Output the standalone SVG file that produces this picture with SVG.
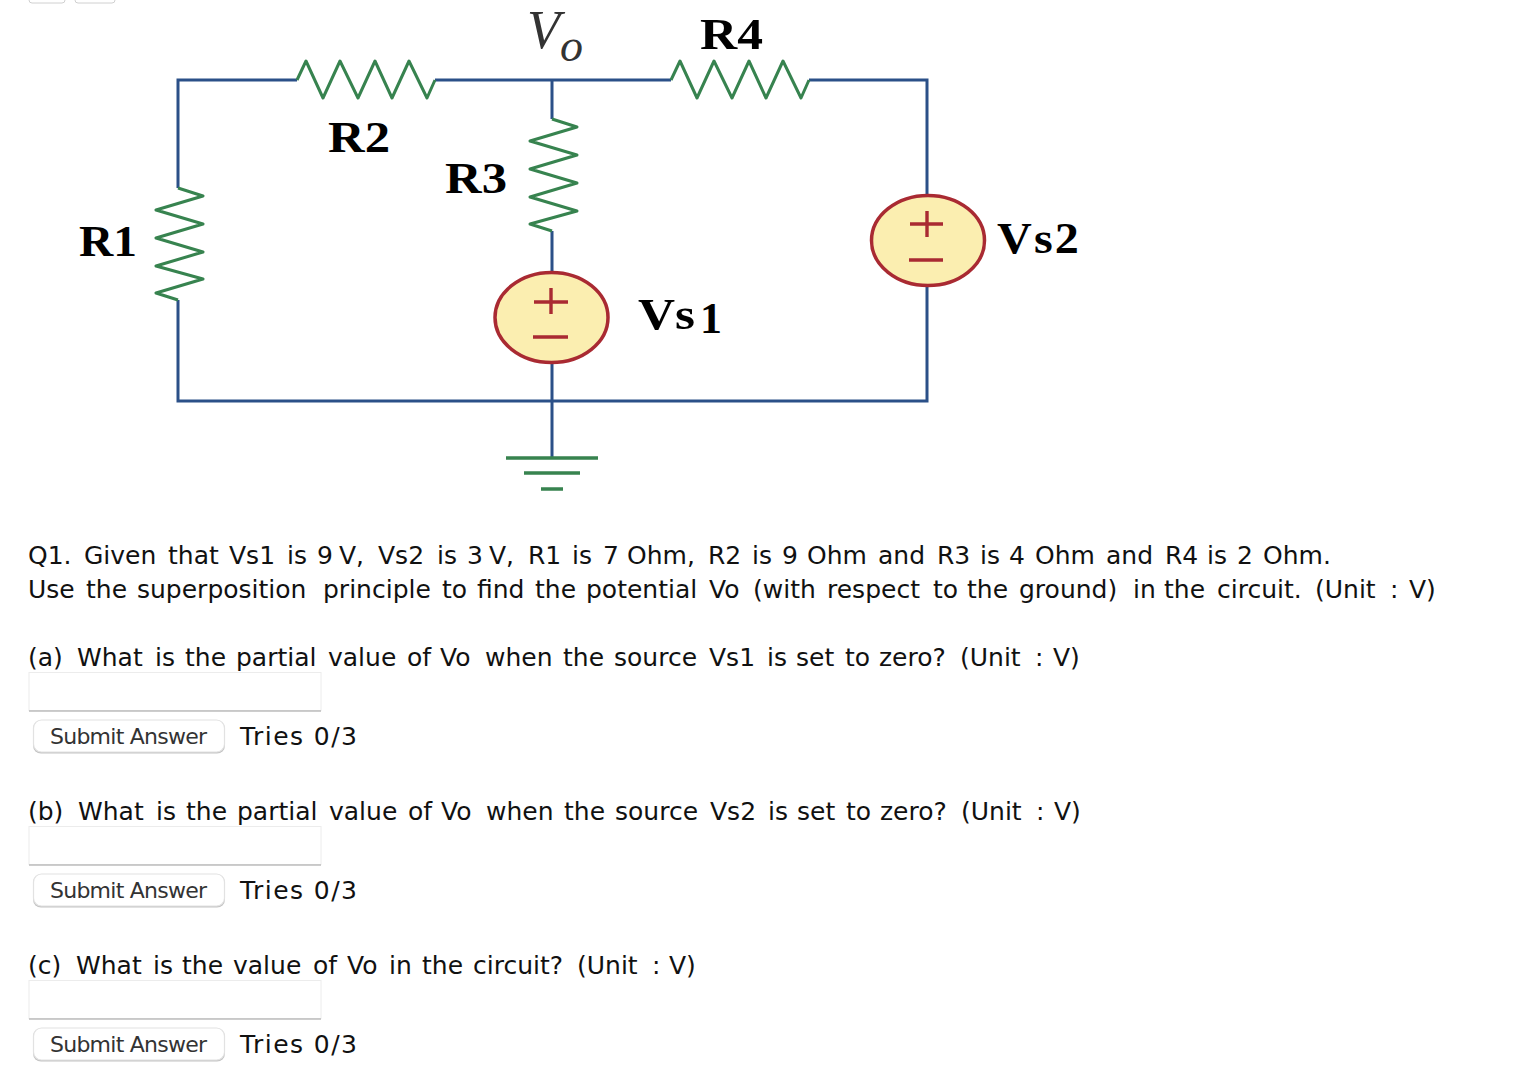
<svg xmlns="http://www.w3.org/2000/svg" width="1540" height="1090" viewBox="0 0 1540 1090">
<style>
.wire{fill:none;stroke:#2b5088;stroke-width:3}
.res{fill:none;stroke:#37834f;stroke-width:3;stroke-linejoin:round}
.src{fill:#fbeeb0;stroke:#a92a32;stroke-width:3.5}
.sym{fill:none;stroke:#a92a32;stroke-width:3.4}
.gnd{fill:none;stroke:#37834f;stroke-width:3.5}
.lbl{font-family:"Liberation Serif",serif;font-weight:bold;font-size:45px;fill:#000}
.vo{font-family:"Liberation Serif",serif;font-style:italic;fill:#333}
.q{font-family:"DejaVu Sans",sans-serif;font-size:25px;fill:#111}
.btn{fill:#fff;stroke:#e2e2e2;stroke-width:1.2}
.bsh{fill:#c4c4c4}
.btxt{font-family:"DejaVu Sans",sans-serif;font-size:22px;fill:#333}
.inp{fill:#fff;stroke:#ececec;stroke-width:1}
.inpb{stroke:#bdbdbd;stroke-width:1.5}
</style>
<rect width="1540" height="1090" fill="#fff"/>
<g id="toolbar"><rect x="29" y="-12" width="36" height="15" rx="3" fill="#fff" stroke="#d0d0d0"/><rect x="75" y="-12" width="40" height="15" rx="3" fill="#fff" stroke="#d0d0d0"/></g>
<g id="connectors">
<path class="wire" d="M178 188V80H297M435 80H671M809 80H927V195M927 286V401H178V300M552 80V119M552 231V272M552 363V458"/>
</g>
<g id="R1"><polyline class="res" points="178,188 203,196 156,210 203,224 156,238 203,252 156,266 203,279 156,293 178,300"/><text class="lbl" x="79" y="256" textLength="58" lengthAdjust="spacingAndGlyphs">R1</text></g>
<g id="R2"><polyline class="res" points="297,80 306,61 323,98 340,61 358,98 375,61 392,98 409,61 427,98 435,80"/><text class="lbl" x="328" y="152" textLength="62" lengthAdjust="spacingAndGlyphs">R2</text></g>
<g id="R3"><polyline class="res" points="552,119 577,127 530,141 577,155 530,169 577,183 530,197 577,211 530,224 552,231"/><text class="lbl" x="445" y="193" textLength="62" lengthAdjust="spacingAndGlyphs">R3</text></g>
<g id="R4"><polyline class="res" points="671,80 680,61 697,98 714,61 732,98 749,61 766,98 783,61 801,98 809,80"/><text class="lbl" x="700" y="49" textLength="63" lengthAdjust="spacingAndGlyphs">R4</text></g>
<g id="Vs1"><ellipse class="src" cx="551.5" cy="317.5" rx="56.5" ry="45"/><path class="sym" d="M534 302H568M551 288V314M533 337H568"/><text class="lbl" x="638" y="329" textLength="57" lengthAdjust="spacingAndGlyphs">Vs</text><text class="lbl" x="700" y="333" textLength="22" lengthAdjust="spacingAndGlyphs">1</text></g>
<g id="Vs2"><ellipse class="src" cx="928" cy="240.5" rx="56.5" ry="45"/><path class="sym" d="M910 224H943M927 211V237M909 260H943"/><text class="lbl" x="997" y="253" textLength="84" lengthAdjust="spacingAndGlyphs" letter-spacing="2">Vs2</text></g>
<g id="ground"><path class="gnd" d="M506 458H598M524 473H580M541 489H563"/></g>
<g id="Vo"><text class="vo" x="527" y="48" font-size="54">V</text><text class="vo" x="560" y="61" font-size="46">o</text></g>
<g id="question">
<text class="q" y="564"><tspan x="28">Q1. </tspan><tspan x="84">Given </tspan><tspan x="168">that </tspan><tspan x="229">Vs1 </tspan><tspan x="287">is </tspan><tspan x="317">9 </tspan><tspan x="339">V, </tspan><tspan x="378">Vs2 </tspan><tspan x="437">is </tspan><tspan x="467">3 </tspan><tspan x="489">V, </tspan><tspan x="528">R1 </tspan><tspan x="572">is </tspan><tspan x="603">7 </tspan><tspan x="627">Ohm, </tspan><tspan x="708">R2 </tspan><tspan x="752">is </tspan><tspan x="782">9 </tspan><tspan x="807">Ohm </tspan><tspan x="878">and </tspan><tspan x="937">R3 </tspan><tspan x="980">is </tspan><tspan x="1009">4 </tspan><tspan x="1035">Ohm </tspan><tspan x="1106">and </tspan><tspan x="1165">R4 </tspan><tspan x="1207">is </tspan><tspan x="1237">2 </tspan><tspan x="1263">Ohm.</tspan></text>
<text class="q" y="598"><tspan x="28">Use </tspan><tspan x="86">the </tspan><tspan x="137">superposition </tspan><tspan x="323">principle </tspan><tspan x="442">to </tspan><tspan x="477">find </tspan><tspan x="535">the </tspan><tspan x="586">potential </tspan><tspan x="709">Vo </tspan><tspan x="753">(with </tspan><tspan x="827">respect </tspan><tspan x="933">to </tspan><tspan x="967">the </tspan><tspan x="1019">ground) </tspan><tspan x="1133">in </tspan><tspan x="1164">the </tspan><tspan x="1217">circuit. </tspan><tspan x="1315">(Unit </tspan><tspan x="1390">: </tspan><tspan x="1409">V)</tspan></text>
</g>
<g id="part-a">
<text class="q" y="666"><tspan x="28">(a) </tspan><tspan x="77">What </tspan><tspan x="155">is </tspan><tspan x="185">the </tspan><tspan x="236">partial </tspan><tspan x="328">value </tspan><tspan x="407">of </tspan><tspan x="440">Vo </tspan><tspan x="485">when </tspan><tspan x="563">the </tspan><tspan x="614">source </tspan><tspan x="709">Vs1 </tspan><tspan x="767">is </tspan><tspan x="796">set </tspan><tspan x="845">to </tspan><tspan x="879">zero? </tspan><tspan x="960">(Unit </tspan><tspan x="1035">: </tspan><tspan x="1053">V)</tspan></text>
<rect class="inp" x="29" y="672.5" width="292" height="38"/><path class="inpb" d="M29 711H321"/>
<rect class="bsh" x="33" y="721" width="192" height="32.5" rx="8"/><rect class="btn" x="33.5" y="720" width="191" height="32" rx="8"/>
<text class="btxt" x="50" y="744" textLength="157">Submit Answer</text>
<text class="q" x="240" y="745" textLength="117">Tries 0/3</text>
</g>
<g id="part-b">
<text class="q" y="820"><tspan x="28">(b) </tspan><tspan x="78">What </tspan><tspan x="156">is </tspan><tspan x="186">the </tspan><tspan x="237">partial </tspan><tspan x="329">value </tspan><tspan x="408">of </tspan><tspan x="441">Vo </tspan><tspan x="486">when </tspan><tspan x="564">the </tspan><tspan x="615">source </tspan><tspan x="710">Vs2 </tspan><tspan x="768">is </tspan><tspan x="797">set </tspan><tspan x="846">to </tspan><tspan x="880">zero? </tspan><tspan x="961">(Unit </tspan><tspan x="1036">: </tspan><tspan x="1054">V)</tspan></text>
<rect class="inp" x="29" y="826.5" width="292" height="38"/><path class="inpb" d="M29 865H321"/>
<rect class="bsh" x="33" y="875" width="192" height="32.5" rx="8"/><rect class="btn" x="33.5" y="874" width="191" height="32" rx="8"/>
<text class="btxt" x="50" y="898" textLength="157">Submit Answer</text>
<text class="q" x="240" y="899" textLength="117">Tries 0/3</text>
</g>
<g id="part-c">
<text class="q" y="974"><tspan x="28">(c) </tspan><tspan x="76">What </tspan><tspan x="153">is </tspan><tspan x="182">the </tspan><tspan x="233">value </tspan><tspan x="313">of </tspan><tspan x="347">Vo </tspan><tspan x="389">in </tspan><tspan x="422">the </tspan><tspan x="473">circuit? </tspan><tspan x="577">(Unit </tspan><tspan x="652">: </tspan><tspan x="669">V)</tspan></text>
<rect class="inp" x="29" y="980.5" width="292" height="38"/><path class="inpb" d="M29 1019H321"/>
<rect class="bsh" x="33" y="1029" width="192" height="32.5" rx="8"/><rect class="btn" x="33.5" y="1028" width="191" height="32" rx="8"/>
<text class="btxt" x="50" y="1052" textLength="157">Submit Answer</text>
<text class="q" x="240" y="1053" textLength="117">Tries 0/3</text>
</g>
</svg>
